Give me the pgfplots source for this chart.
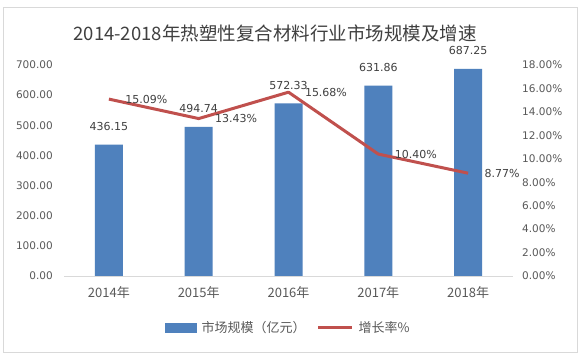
\documentclass[border=0pt]{standalone}
\usepackage{pgfplots}
\pgfplotsset{compat=1.18}
\usepackage{fontspec}
\setmainfont{DejaVu Sans}
\newfontfamily\cjk{Noto Sans CJK SC}
\definecolor{barblue}{HTML}{4F81BD}
\definecolor{linered}{HTML}{C0504D}
\definecolor{txtgray}{HTML}{595959}
\definecolor{lblgray}{HTML}{404040}
\definecolor{axgray}{HTML}{D9D9D9}
\begin{document}
\begin{tikzpicture}
\useasboundingbox (0pt,0pt) rectangle (580pt,358pt);
\fill[white] (0pt,0pt) rectangle (580pt,358pt);
\draw[axgray, line width=0.8pt] (3pt,6pt) rectangle (577pt,351pt);
\node[font=\cjk\fontsize{18.5}{20}\selectfont, text=lblgray, inner sep=0pt] at (275pt,325pt) {2014-2018年热塑性复合材料行业市场规模及增速};
\begin{axis}[
  at={(64pt,82pt)}, anchor=south west,
  width=449pt, height=211pt, scale only axis,
  xmin=-0.5, xmax=4.5, ymin=0, ymax=700,
  xtick={0,1,2,3,4},
  xticklabels={2014年,2015年,2016年,2017年,2018年},
  ytick={0,100,...,700},
  axis x line*=bottom, axis y line*=left,
  x axis line style={draw=axgray, line width=0.8pt, -},
  y axis line style={draw=none},
  major tick length=0pt,
  tick style={draw=none},
  /pgf/number format/assume math mode=true,
  /pgf/number format/.cd, fixed, fixed zerofill, precision=2, 1000 sep={},
  /pgfplots/.cd,
  yticklabel style={font=\fontsize{10.5}{12}\selectfont, text=txtgray, inner sep=0pt, xshift=-11pt},
  xticklabel style={font=\cjk\fontsize{13}{15}\selectfont, text=txtgray, inner sep=0pt, anchor=center, yshift=-17pt},
]
\addplot[ybar, bar width=28pt, fill=barblue, draw=none,
  nodes near coords,
  nodes near coords style={font=\fontsize{11}{13}\selectfont, text=lblgray, inner sep=0pt, anchor=center, yshift=18pt}]
  coordinates {(0,436.15) (1,494.74) (2,572.33) (3,631.86) (4,687.25)};
\end{axis}
\begin{axis}[
  at={(64pt,82pt)}, anchor=south west,
  width=449pt, height=211pt, scale only axis,
  xmin=-0.5, xmax=4.5, ymin=0, ymax=18,
  ytick={0,2,...,18},
  axis x line=none, axis y line*=right,
  y axis line style={draw=none},
  major tick length=0pt,
  tick style={draw=none},
  /pgf/number format/assume math mode=true,
  yticklabel={\pgfmathprintnumber[fixed,fixed zerofill,precision=2]{\tick}\%},
  yticklabel style={font=\fontsize{10.5}{12}\selectfont, text=txtgray, inner sep=0pt, xshift=9pt},
  legend columns=2,
  legend style={draw=none, fill=none, at={(0.5,0)}, anchor=center, yshift=-52pt,
    font=\cjk\fontsize{13}{15}\selectfont, text=txtgray,
    /tikz/every odd column/.append style={column sep=3pt},
    /tikz/every even column/.append style={column sep=9pt}},
  legend cell align=left,
]
\addlegendimage{legend image code/.code={\fill[barblue] (0pt,-4.5pt) rectangle (31pt,4.5pt);}}
\addlegendentry{市场规模（亿元）}
\addplot[linered, line width=3pt, line join=round, no markers,
  legend image code/.code={\draw[linered, line width=3pt] (0pt,0pt) -- (34pt,0pt);},
  nodes near coords={\pgfmathprintnumber[fixed,fixed zerofill,precision=2]{\pgfplotspointmeta}\%},
  nodes near coords style={font=\fontsize{11}{13}\selectfont, text=lblgray, inner sep=0pt, anchor=west, xshift=15pt}]
  coordinates {(0,15.09) (1,13.43) (2,15.68) (3,10.40) (4,8.77)};
\addlegendentry{增长率\%}
\end{axis}
\end{tikzpicture}
\end{document}
